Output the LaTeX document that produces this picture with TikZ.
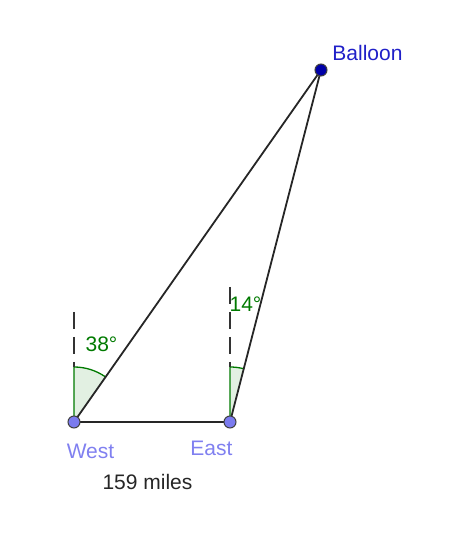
\documentclass[tikz,border=0pt]{standalone}
\usepackage{fontspec}
\setmainfont{Liberation Sans}
\definecolor{ptlav}{HTML}{7B7BEF}
\definecolor{lablav}{HTML}{8080F0}
\definecolor{balblue}{HTML}{2020C8}
\definecolor{dkblue}{HTML}{0000A8}
\definecolor{angg}{HTML}{007A00}
\definecolor{angfill}{HTML}{E2F0E2}
\begin{document}
\begin{tikzpicture}[x=1pt,y=1pt,
  pt/.style={circle,draw=black!75,line width=1pt,fill=ptlav,inner sep=0pt,minimum size=12pt},
  ptb/.style={circle,draw=black!75,line width=1pt,fill=dkblue,inner sep=0pt,minimum size=12pt},
  seg/.style={line width=1.8pt,black!85},
  dsh/.style={line width=1.8pt,black!80,dash pattern=on 17pt off 8pt},
  lab/.style={font=\fontsize{21}{21}\selectfont,inner sep=0pt}]
\useasboundingbox (0,0) rectangle (474,555);
\coordinate (Wc) at (74,133);
\coordinate (Ec) at (230,133);
\coordinate (Bc) at (321,485);
\coordinate (Wtop) at (74,243);
\coordinate (Etop) at (230,268);
% sectors
\fill[angfill] (Wc) -- ++(90:55) arc[start angle=90,end angle=54.94,radius=55] -- cycle;
\draw[angg,line width=1.3pt] (Wc) -- ++(90:55) arc[start angle=90,end angle=54.94,radius=55];
\fill[angfill] (Ec) -- ++(90:55) arc[start angle=90,end angle=75.5,radius=55] -- cycle;
\draw[angg,line width=1.3pt] (Ec) -- ++(90:55) arc[start angle=90,end angle=75.5,radius=55];
% dashed verticals
\draw[dsh] (Wtop) -- ++(0,-55);
\draw[dsh] (Etop) -- ++(0,-80);
% sides
\draw[seg] (Wc) -- (Bc);
\draw[seg] (Ec) -- (Bc);
\draw[seg] (Wc) -- (Ec);
% points
\node[pt] (W) at (Wc) {};
\node[pt] (E) at (Ec) {};
\node[ptb] (B) at (Bc) {};
% labels
\node[lab,text=balblue] (lB) at (367.5,502) {Balloon};
\node[lab,text=lablav] (lW) at (90.5,104) {West};
\node[lab,text=lablav] (lE) at (211.5,107) {East};
\node[lab,text=black!85] (lm) at (147.5,73) {159 miles};
\node[lab,text=angg] (a38) at (101.5,211) {38°};
\node[lab,text=angg] (a14) at (245.5,251) {14°};
\end{tikzpicture}
\end{document}
